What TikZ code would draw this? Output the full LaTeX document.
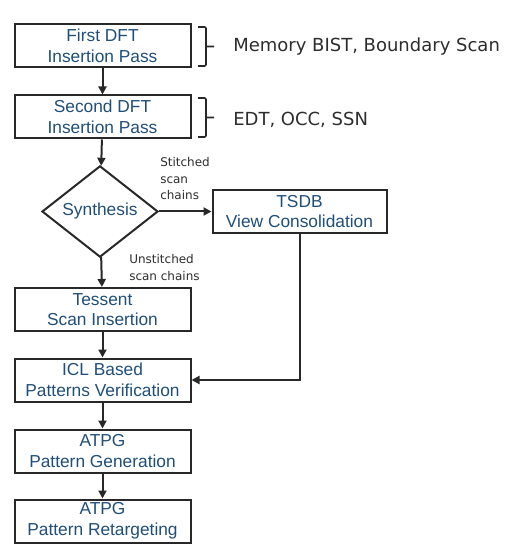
\documentclass[tikz,border=0pt]{standalone}
\usepackage{fontspec}
\usepackage{xcolor}
\usepackage{tikz}
\usetikzlibrary{shapes.geometric,arrows.meta}

\newfontfamily\boxfont{Liberation Sans}
\newfontfamily\notefont{DejaVu Sans}
\definecolor{boxblue}{RGB}{31,78,121}
\definecolor{linegray}{RGB}{40,40,40}
\definecolor{notegray}{RGB}{45,45,45}

\begin{document}
\begin{tikzpicture}[x=0.75pt,y=0.75pt,yscale=-1,xscale=1,
  flowbox/.style={draw=linegray,line width=1.5pt,minimum width=132pt,minimum height=32.25pt,inner sep=1pt,align=center,text=boxblue,font=\boxfont\fontsize{13}{15.5}\selectfont},
  flowline/.style={draw=linegray,line width=1.5pt,-{Triangle[length=6pt,width=6pt]}},
  sidenote/.style={anchor=west,inner sep=0pt,text=notegray,font=\notefont\fontsize{13.5}{16}\selectfont},
  chainnote/.style={anchor=north west,inner sep=0.75pt,align=left,text=notegray,font=\notefont\fontsize{9}{12.5}\selectfont}]

\useasboundingbox (0,0) rectangle (520,555);

\node [flowbox] (first) at (102.5,46) {First DFT\\Insertion Pass};

\node [flowbox] (second) at (102.5,117) {Second DFT\\Insertion Pass};

\node [flowbox,shape=diamond,minimum width=87pt,minimum height=63.75pt,inner sep=0pt] (synth) at (100,211.5) {Synthesis};

\node [flowbox,minimum width=130.5pt,minimum height=32pt] (tsdb) at (299.5,211.5) {TSDB\\View Consolidation};

\node [flowbox] (tessent) at (102.5,309.5) {Tessent\\Scan Insertion};

\node [flowbox] (icl) at (102.5,380) {ICL Based\\Patterns Verification};

\node [flowbox] (atpggen) at (102.5,451) {ATPG\\Pattern Generation};

\node [flowbox] (atpgret) at (102.5,521) {ATPG\\Pattern Retargeting};

\draw [draw=linegray,line width=1.2pt,rounded corners=1pt] (198,27) -- (206,27) -- (206,66) -- (198,66) (206,46.5) -- (214,46.5);

\draw [draw=linegray,line width=1.2pt,rounded corners=1pt] (198,98) -- (206,98) -- (206,137) -- (198,137) (206,117.5) -- (214,117.5);

\node [sidenote] (firstnote) at (233,46.5) {Memory BIST, Boundary Scan};

\node [sidenote] (secondnote) at (233,120) {EDT, OCC, SSN};

\node [chainnote] (stitched) at (159,156) {Stitched\\scan\\chains};

\node [chainnote] (unstitched) at (128,253) {Unstitched\\scan chains};

\draw [flowline] (first) -- (second);
\draw [flowline] (second) -- (synth);
\draw [flowline] (synth) -- (tsdb);
\draw [flowline] (synth) -- (tessent);
\draw [flowline] (tessent) -- (icl);
\draw [flowline] (tsdb.south) |- (icl.east);
\draw [flowline] (icl) -- (atpggen);
\draw [flowline] (atpggen) -- (atpgret);
\end{tikzpicture}
\end{document}
